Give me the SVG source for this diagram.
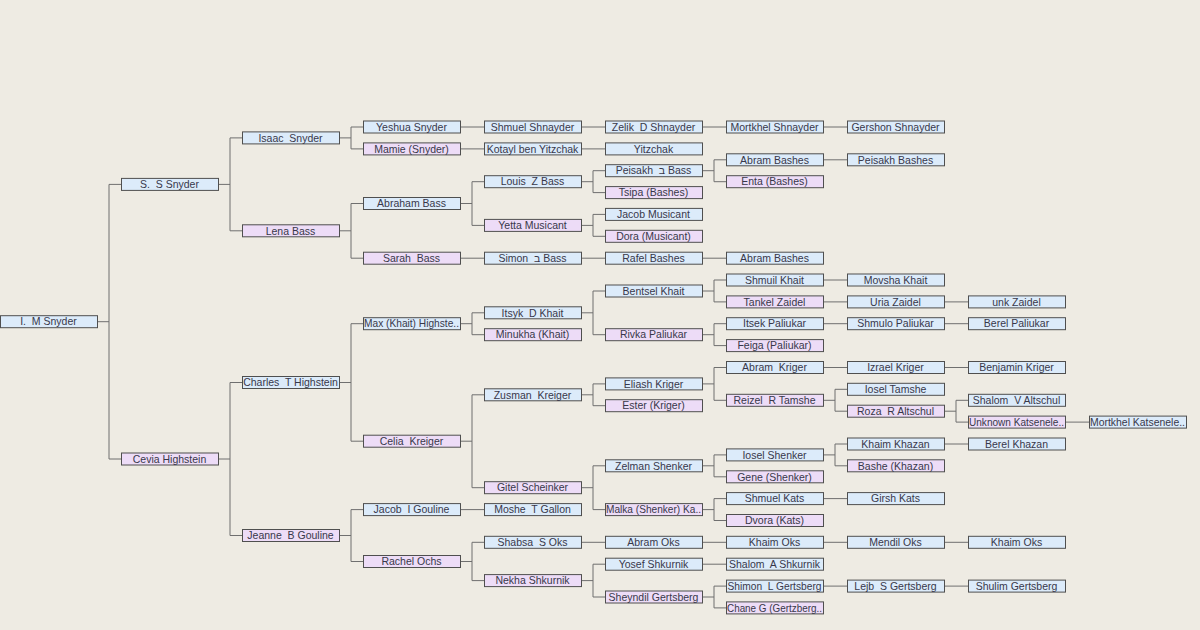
<svg xmlns="http://www.w3.org/2000/svg" width="1200" height="630" viewBox="0 0 1200 630">
<style>
.bg{fill:#eeebe3}
.n rect{stroke:#4f4f4f;stroke-width:1}
.m rect{fill:#dcebfa}
.f rect{fill:#eddcf7}
.n text{font-family:"Liberation Sans",Arial,sans-serif;font-size:10.5px;fill:#38384a;text-anchor:middle;white-space:pre}
#links path{fill:none;stroke:#6f6f6f;stroke-width:1}
</style>
<rect class="bg" x="0" y="0" width="1200" height="630"/>
<g id="links">
<path d="M97,321.7H109M109,184.4V459M109,184.4H121M109,459H121"/>
<path d="M218,184.4H230M230,137.9V230.8M230,137.9H242M230,230.8H242"/>
<path d="M218,459H230M230,382.5V535.5M230,382.5H242M230,535.5H242"/>
<path d="M339,137.9H351M351,127V148.9M351,127H363M351,148.9H363"/>
<path d="M339,230.8H351M351,203.5V258.2M351,203.5H363M351,258.2H363"/>
<path d="M339,382.5H351M351,323.7V441.2M351,323.7H363M351,441.2H363"/>
<path d="M339,535.5H351M351,509.6V561.5M351,509.6H363M351,561.5H363"/>
<path d="M460,127H484"/>
<path d="M460,148.9H484"/>
<path d="M460,203.5H472M472,181.7V225.4M472,181.7H484M472,225.4H484"/>
<path d="M460,258.2H484"/>
<path d="M460,323.7H472M472,312.8V334.7M472,312.8H484M472,334.7H484"/>
<path d="M460,441.2H472M472,394.8V487.7M472,394.8H484M472,487.7H484"/>
<path d="M460,509.6H484"/>
<path d="M460,561.5H472M472,542.3V580.6M472,542.3H484M472,580.6H484"/>
<path d="M581,127H605"/>
<path d="M581,148.9H605"/>
<path d="M581,181.7H593M593,170.7V192.6M593,170.7H605M593,192.6H605"/>
<path d="M581,225.4H593M593,214.4V236.3M593,214.4H605M593,236.3H605"/>
<path d="M581,258.2H605"/>
<path d="M581,312.8H593M593,291V334.7M593,291H605M593,334.7H605"/>
<path d="M581,394.8H593M593,383.9V405.7M593,383.9H605M593,405.7H605"/>
<path d="M581,487.7H593M593,465.8V509.6M593,465.8H605M593,509.6H605"/>
<path d="M581,542.3H605"/>
<path d="M581,580.6H593M593,564.2V597M593,564.2H605M593,597H605"/>
<path d="M702,127H726"/>
<path d="M702,170.7H714M714,159.8V181.7M714,159.8H726M714,181.7H726"/>
<path d="M702,258.2H726"/>
<path d="M702,291H714M714,280V301.9M714,280H726M714,301.9H726"/>
<path d="M702,334.7H714M714,323.7V345.6M714,323.7H726M714,345.6H726"/>
<path d="M702,383.9H714M714,367.5V400.3M714,367.5H726M714,400.3H726"/>
<path d="M702,465.8H714M714,454.9V476.8M714,454.9H726M714,476.8H726"/>
<path d="M702,509.6H714M714,498.6V520.5M714,498.6H726M714,520.5H726"/>
<path d="M702,542.3H726"/>
<path d="M702,564.2H726"/>
<path d="M702,597H714M714,586.1V607.9M714,586.1H726M714,607.9H726"/>
<path d="M823,127H847"/>
<path d="M823,159.8H847"/>
<path d="M823,280H847"/>
<path d="M823,301.9H847"/>
<path d="M823,323.7H847"/>
<path d="M823,367.5H847"/>
<path d="M823,400.3H835M835,389.3V411.2M835,389.3H847M835,411.2H847"/>
<path d="M823,454.9H835M835,444V465.8M835,444H847M835,465.8H847"/>
<path d="M823,498.6H847"/>
<path d="M823,542.3H847"/>
<path d="M823,586.1H847"/>
<path d="M944,301.9H968"/>
<path d="M944,323.7H968"/>
<path d="M944,367.5H968"/>
<path d="M944,411.2H956M956,400.3V422.1M956,400.3H968M956,422.1H968"/>
<path d="M944,444H968"/>
<path d="M944,542.3H968"/>
<path d="M944,586.1H968"/>
<path d="M1065,422.1H1089"/>
</g>
<g id="n-im-snyder" class="n m"><rect x="0.5" y="315.7" width="97" height="12"/><text x="48.5" y="325.4">I.  M Snyder</text></g>
<g id="n-ss-snyder" class="n m"><rect x="121.5" y="178.4" width="97" height="12"/><text x="169.5" y="188.1">S.  S Snyder</text></g>
<g id="n-cevia" class="n f"><rect x="121.5" y="453" width="97" height="12"/><text x="169.5" y="462.7">Cevia Highstein</text></g>
<g id="n-isaac" class="n m"><rect x="242.5" y="131.9" width="97" height="12"/><text x="290.5" y="141.6">Isaac  Snyder</text></g>
<g id="n-lena" class="n f"><rect x="242.5" y="224.8" width="97" height="12"/><text x="290.5" y="234.5">Lena Bass</text></g>
<g id="n-charles" class="n m"><rect x="242.5" y="376.5" width="97" height="12"/><text x="290.5" y="386.2">Charles  T Highstein</text></g>
<g id="n-jeanne" class="n f"><rect x="242.5" y="529.5" width="97" height="12"/><text x="290.5" y="539.2">Jeanne  B Gouline</text></g>
<g id="n-yeshua" class="n m"><rect x="363.5" y="121" width="97" height="12"/><text x="411.5" y="130.7">Yeshua Snyder</text></g>
<g id="n-mamie" class="n f"><rect x="363.5" y="142.9" width="97" height="12"/><text x="411.5" y="152.6">Mamie (Snyder)</text></g>
<g id="n-abraham" class="n m"><rect x="363.5" y="197.5" width="97" height="12"/><text x="411.5" y="207.2">Abraham Bass</text></g>
<g id="n-sarah" class="n f"><rect x="363.5" y="252.2" width="97" height="12"/><text x="411.5" y="261.9">Sarah  Bass</text></g>
<g id="n-max" class="n m"><rect x="363.5" y="317.7" width="97" height="12"/><text x="411.5" y="327.4" textLength="95" lengthAdjust="spacingAndGlyphs">Max (Khait) Highste..</text></g>
<g id="n-celia" class="n f"><rect x="363.5" y="435.2" width="97" height="12"/><text x="411.5" y="444.9">Celia  Kreiger</text></g>
<g id="n-jacob-gouline" class="n m"><rect x="363.5" y="503.6" width="97" height="12"/><text x="411.5" y="513.3">Jacob  I Gouline</text></g>
<g id="n-rachel" class="n f"><rect x="363.5" y="555.5" width="97" height="12"/><text x="411.5" y="565.2">Rachel Ochs</text></g>
<g id="n-shmuel-shnayder" class="n m"><rect x="484.5" y="121" width="97" height="12"/><text x="532.5" y="130.7">Shmuel Shnayder</text></g>
<g id="n-kotayl" class="n m"><rect x="484.5" y="142.9" width="97" height="12"/><text x="532.5" y="152.6">Kotayl ben Yitzchak</text></g>
<g id="n-louis" class="n m"><rect x="484.5" y="175.7" width="97" height="12"/><text x="532.5" y="185.4">Louis  Z Bass</text></g>
<g id="n-yetta" class="n f"><rect x="484.5" y="219.4" width="97" height="12"/><text x="532.5" y="229.1">Yetta Musicant</text></g>
<g id="n-simon" class="n m"><rect x="484.5" y="252.2" width="97" height="12"/><text x="532.5" y="261.9">Simon  ב Bass</text></g>
<g id="n-itsyk" class="n m"><rect x="484.5" y="306.8" width="97" height="12"/><text x="532.5" y="316.5">Itsyk  D Khait</text></g>
<g id="n-minukha" class="n f"><rect x="484.5" y="328.7" width="97" height="12"/><text x="532.5" y="338.4">Minukha (Khait)</text></g>
<g id="n-zusman" class="n m"><rect x="484.5" y="388.8" width="97" height="12"/><text x="532.5" y="398.5">Zusman  Kreiger</text></g>
<g id="n-gitel" class="n f"><rect x="484.5" y="481.7" width="97" height="12"/><text x="532.5" y="491.4">Gitel Scheinker</text></g>
<g id="n-moshe" class="n m"><rect x="484.5" y="503.6" width="97" height="12"/><text x="532.5" y="513.3">Moshe  T Gallon</text></g>
<g id="n-shabsa" class="n m"><rect x="484.5" y="536.3" width="97" height="12"/><text x="532.5" y="546">Shabsa  S Oks</text></g>
<g id="n-nekha" class="n f"><rect x="484.5" y="574.6" width="97" height="12"/><text x="532.5" y="584.3">Nekha Shkurnik</text></g>
<g id="n-zelik" class="n m"><rect x="605.5" y="121" width="97" height="12"/><text x="653.5" y="130.7">Zelik  D Shnayder</text></g>
<g id="n-yitzchak" class="n m"><rect x="605.5" y="142.9" width="97" height="12"/><text x="653.5" y="152.6">Yitzchak</text></g>
<g id="n-peisakh-bass" class="n m"><rect x="605.5" y="164.7" width="97" height="12"/><text x="653.5" y="174.4">Peisakh  ב Bass</text></g>
<g id="n-tsipa" class="n f"><rect x="605.5" y="186.6" width="97" height="12"/><text x="653.5" y="196.3">Tsipa (Bashes)</text></g>
<g id="n-jacob-musicant" class="n m"><rect x="605.5" y="208.4" width="97" height="12"/><text x="653.5" y="218.1">Jacob Musicant</text></g>
<g id="n-dora" class="n f"><rect x="605.5" y="230.3" width="97" height="12"/><text x="653.5" y="240">Dora (Musicant)</text></g>
<g id="n-rafel" class="n m"><rect x="605.5" y="252.2" width="97" height="12"/><text x="653.5" y="261.9">Rafel Bashes</text></g>
<g id="n-bentsel" class="n m"><rect x="605.5" y="285" width="97" height="12"/><text x="653.5" y="294.7">Bentsel Khait</text></g>
<g id="n-rivka" class="n f"><rect x="605.5" y="328.7" width="97" height="12"/><text x="653.5" y="338.4">Rivka Paliukar</text></g>
<g id="n-eliash" class="n m"><rect x="605.5" y="377.9" width="97" height="12"/><text x="653.5" y="387.6">Eliash Kriger</text></g>
<g id="n-ester" class="n f"><rect x="605.5" y="399.7" width="97" height="12"/><text x="653.5" y="409.4">Ester (Kriger)</text></g>
<g id="n-zelman" class="n m"><rect x="605.5" y="459.8" width="97" height="12"/><text x="653.5" y="469.5">Zelman Shenker</text></g>
<g id="n-malka" class="n f"><rect x="605.5" y="503.6" width="97" height="12"/><text x="653.5" y="513.3" textLength="95" lengthAdjust="spacingAndGlyphs">Malka (Shenker) Ka..</text></g>
<g id="n-abram-oks" class="n m"><rect x="605.5" y="536.3" width="97" height="12"/><text x="653.5" y="546">Abram Oks</text></g>
<g id="n-yosef" class="n m"><rect x="605.5" y="558.2" width="97" height="12"/><text x="653.5" y="567.9">Yosef Shkurnik</text></g>
<g id="n-sheyndil" class="n f"><rect x="605.5" y="591" width="97" height="12"/><text x="653.5" y="600.7">Sheyndil Gertsberg</text></g>
<g id="n-mortkhel-shnayder" class="n m"><rect x="726.5" y="121" width="97" height="12"/><text x="774.5" y="130.7">Mortkhel Shnayder</text></g>
<g id="n-abram-bashes-1" class="n m"><rect x="726.5" y="153.8" width="97" height="12"/><text x="774.5" y="163.5">Abram Bashes</text></g>
<g id="n-enta" class="n f"><rect x="726.5" y="175.7" width="97" height="12"/><text x="774.5" y="185.4">Enta (Bashes)</text></g>
<g id="n-abram-bashes-2" class="n m"><rect x="726.5" y="252.2" width="97" height="12"/><text x="774.5" y="261.9">Abram Bashes</text></g>
<g id="n-shmuil-khait" class="n m"><rect x="726.5" y="274" width="97" height="12"/><text x="774.5" y="283.7">Shmuil Khait</text></g>
<g id="n-tankel" class="n f"><rect x="726.5" y="295.9" width="97" height="12"/><text x="774.5" y="305.6">Tankel Zaidel</text></g>
<g id="n-itsek" class="n m"><rect x="726.5" y="317.7" width="97" height="12"/><text x="774.5" y="327.4">Itsek Paliukar</text></g>
<g id="n-feiga" class="n f"><rect x="726.5" y="339.6" width="97" height="12"/><text x="774.5" y="349.3">Feiga (Paliukar)</text></g>
<g id="n-abram-kriger" class="n m"><rect x="726.5" y="361.5" width="97" height="12"/><text x="774.5" y="371.2">Abram  Kriger</text></g>
<g id="n-reizel" class="n f"><rect x="726.5" y="394.3" width="97" height="12"/><text x="774.5" y="404">Reizel  R Tamshe</text></g>
<g id="n-iosel-shenker" class="n m"><rect x="726.5" y="448.9" width="97" height="12"/><text x="774.5" y="458.6">Iosel Shenker</text></g>
<g id="n-gene" class="n f"><rect x="726.5" y="470.8" width="97" height="12"/><text x="774.5" y="480.5">Gene (Shenker)</text></g>
<g id="n-shmuel-kats" class="n m"><rect x="726.5" y="492.6" width="97" height="12"/><text x="774.5" y="502.3">Shmuel Kats</text></g>
<g id="n-dvora" class="n f"><rect x="726.5" y="514.5" width="97" height="12"/><text x="774.5" y="524.2">Dvora (Kats)</text></g>
<g id="n-khaim-oks-1" class="n m"><rect x="726.5" y="536.3" width="97" height="12"/><text x="774.5" y="546">Khaim Oks</text></g>
<g id="n-shalom-a" class="n m"><rect x="726.5" y="558.2" width="97" height="12"/><text x="774.5" y="567.9">Shalom  A Shkurnik</text></g>
<g id="n-shimon" class="n m"><rect x="726.5" y="580.1" width="97" height="12"/><text x="774.5" y="589.8" textLength="94" lengthAdjust="spacingAndGlyphs">Shimon  L Gertsberg</text></g>
<g id="n-chane" class="n f"><rect x="726.5" y="601.9" width="97" height="12"/><text x="774.5" y="611.6" textLength="95" lengthAdjust="spacingAndGlyphs">Chane G (Gertzberg..</text></g>
<g id="n-gershon" class="n m"><rect x="847.5" y="121" width="97" height="12"/><text x="895.5" y="130.7">Gershon Shnayder</text></g>
<g id="n-peisakh-bashes" class="n m"><rect x="847.5" y="153.8" width="97" height="12"/><text x="895.5" y="163.5">Peisakh Bashes</text></g>
<g id="n-movsha" class="n m"><rect x="847.5" y="274" width="97" height="12"/><text x="895.5" y="283.7">Movsha Khait</text></g>
<g id="n-uria" class="n m"><rect x="847.5" y="295.9" width="97" height="12"/><text x="895.5" y="305.6">Uria Zaidel</text></g>
<g id="n-shmulo" class="n m"><rect x="847.5" y="317.7" width="97" height="12"/><text x="895.5" y="327.4">Shmulo Paliukar</text></g>
<g id="n-izrael" class="n m"><rect x="847.5" y="361.5" width="97" height="12"/><text x="895.5" y="371.2">Izrael Kriger</text></g>
<g id="n-iosel-tamshe" class="n m"><rect x="847.5" y="383.3" width="97" height="12"/><text x="895.5" y="393">Iosel Tamshe</text></g>
<g id="n-roza" class="n f"><rect x="847.5" y="405.2" width="97" height="12"/><text x="895.5" y="414.9">Roza  R Altschul</text></g>
<g id="n-khaim-khazan" class="n m"><rect x="847.5" y="438" width="97" height="12"/><text x="895.5" y="447.7">Khaim Khazan</text></g>
<g id="n-bashe" class="n f"><rect x="847.5" y="459.8" width="97" height="12"/><text x="895.5" y="469.5">Bashe (Khazan)</text></g>
<g id="n-girsh" class="n m"><rect x="847.5" y="492.6" width="97" height="12"/><text x="895.5" y="502.3">Girsh Kats</text></g>
<g id="n-mendil" class="n m"><rect x="847.5" y="536.3" width="97" height="12"/><text x="895.5" y="546">Mendil Oks</text></g>
<g id="n-lejb" class="n m"><rect x="847.5" y="580.1" width="97" height="12"/><text x="895.5" y="589.8">Lejb  S Gertsberg</text></g>
<g id="n-unk-zaidel" class="n m"><rect x="968.5" y="295.9" width="97" height="12"/><text x="1016.5" y="305.6">unk Zaidel</text></g>
<g id="n-berel-paliukar" class="n m"><rect x="968.5" y="317.7" width="97" height="12"/><text x="1016.5" y="327.4">Berel Paliukar</text></g>
<g id="n-benjamin" class="n m"><rect x="968.5" y="361.5" width="97" height="12"/><text x="1016.5" y="371.2">Benjamin Kriger</text></g>
<g id="n-shalom-v" class="n m"><rect x="968.5" y="394.3" width="97" height="12"/><text x="1016.5" y="404">Shalom  V Altschul</text></g>
<g id="n-unknown-katsenele" class="n f"><rect x="968.5" y="416.1" width="97" height="12"/><text x="1016.5" y="425.8" textLength="95" lengthAdjust="spacingAndGlyphs">Unknown Katsenele..</text></g>
<g id="n-berel-khazan" class="n m"><rect x="968.5" y="438" width="97" height="12"/><text x="1016.5" y="447.7">Berel Khazan</text></g>
<g id="n-khaim-oks-2" class="n m"><rect x="968.5" y="536.3" width="97" height="12"/><text x="1016.5" y="546">Khaim Oks</text></g>
<g id="n-shulim" class="n m"><rect x="968.5" y="580.1" width="97" height="12"/><text x="1016.5" y="589.8">Shulim Gertsberg</text></g>
<g id="n-mortkhel-katsenele" class="n m"><rect x="1089.5" y="416.1" width="97" height="12"/><text x="1137.5" y="425.8" textLength="95" lengthAdjust="spacingAndGlyphs">Mortkhel Katsenele..</text></g>
</svg>
